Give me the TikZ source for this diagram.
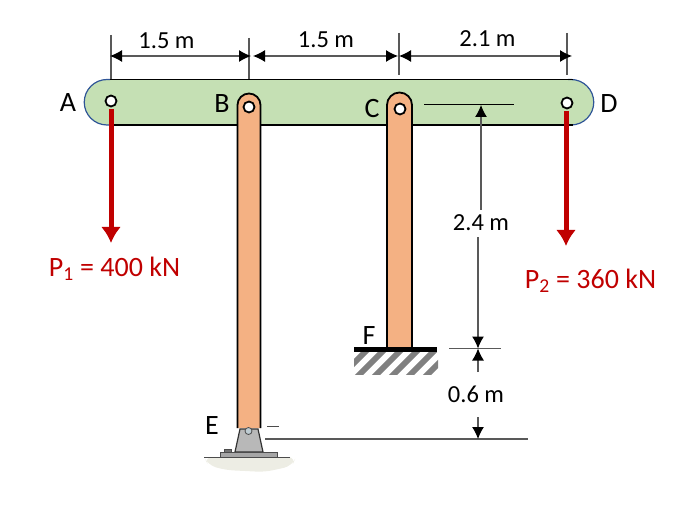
\documentclass[tikz,border=0pt]{standalone}
\usepackage{fontspec}
\setmainfont{Carlito}
\usetikzlibrary{arrows.meta}
\definecolor{barfill}{HTML}{C5E0B4}
\definecolor{linkfill}{HTML}{F4B183}
\definecolor{arcblue}{HTML}{2F5597}
\definecolor{loadred}{HTML}{C00000}
\definecolor{shadowgrey}{HTML}{EDEDE4}
\tikzset{
  every picture/.style={line width=1pt},
  txt/.style={font=\fontsize{28}{30}\selectfont,inner sep=0pt},
  dimtxt/.style={font=\fontsize{24.5}{28}\selectfont,inner sep=0pt},
  pinhole/.style={circle,draw=black,fill=white,line width=1.8pt,minimum size=11pt,inner sep=0pt},
  extline/.style={draw=black!65,line width=1.1pt},
  dimline/.style={draw=black!65,line width=1.1pt},
  tipend/.style={-{Latex[length=12pt,width=12pt,black]}},
  tipboth/.style={{Latex[length=12pt,width=12pt,black]}-{Latex[length=12pt,width=12pt,black]}},
  loadarrow/.style={draw=loadred,line width=5pt,-{Latex[length=16pt,width=20pt]}},
  linkbar/.style={draw=black,fill=linkfill,line width=1.8pt}
}
\begin{document}
\begin{tikzpicture}[x=1pt,y=-1pt]
\useasboundingbox (0,0) rectangle (686,508);
% beam
\fill[barfill] (107,79.5) arc[start angle=270,end angle=90,radius=22.75] -- (571,125) arc[start angle=90,end angle=-90,radius=22.75] -- cycle;
\draw[arcblue,line width=1.2pt] (110,79.5) -- (107,79.5) arc[start angle=270,end angle=90,radius=22.75] -- (110,125);
\draw[arcblue,line width=1.2pt] (568,79.5) -- (571,79.5) arc[start angle=-90,end angle=90,radius=22.75] -- (568,125);
\draw[line width=1.5pt] (110,79.5) -- (573,79.5);
\draw[line width=1.5pt] (110,125) -- (573,125);
% links
\draw[linkbar] (237.5,428) -- (237.5,105) arc[start angle=180,end angle=360,radius=11.5] -- (260.5,428);
\draw[linkbar] (387,348) -- (387,105) arc[start angle=180,end angle=360,radius=12.5] -- (412,348);
% pins
\node[pinhole] (pinA) at (111,101) {};
\node[pinhole] (pinB) at (249,107) {};
\node[pinhole] (pinC) at (400,109) {};
\node[pinhole] (pinD) at (567,103) {};
% loads
\coordinate (endP1) at (111,243);
\coordinate (endP2) at (566,246);
\draw[loadarrow] (111,109) -- (endP1);
\draw[loadarrow] (566,111) -- (endP2);
% top dimensions
\coordinate (extA1) at (111,35);
\coordinate (extA2) at (111,79);
\coordinate (extB1) at (249,38);
\coordinate (extB2) at (249,79);
\coordinate (extC1) at (399,33);
\coordinate (extC2) at (399,75);
\coordinate (extD1) at (567,33);
\coordinate (extD2) at (567,75);
\draw[extline] (extA1) -- (extA2);
\draw[extline] (extB1) -- (extB2);
\draw[extline] (extC1) -- (extC2);
\draw[extline] (extD1) -- (extD2);
\coordinate (dimA) at (110,56);
\coordinate (dimB1) at (251,56);
\coordinate (dimB2) at (253,56);
\coordinate (dimC1) at (398,56);
\coordinate (dimC2) at (399,56);
\coordinate (dimD) at (572,56);
\draw[dimline,tipboth] (dimA) -- (dimB1);
\draw[dimline,tipboth] (dimB2) -- (dimC1);
\draw[dimline,tipboth] (dimC2) -- (dimD);
\node[dimtxt] (lenAB) at (166.5,41) {1.5 m};
\node[dimtxt] (lenBC) at (326,40) {1.5 m};
\node[dimtxt] (lenCD) at (487.5,39) {2.1 m};
% right dimensions
\coordinate (refC1) at (424,105);
\coordinate (refC2) at (514,105);
\coordinate (refF1) at (449,348.5);
\coordinate (refF2) at (501,348.5);
\coordinate (refE1) at (265,439);
\coordinate (refE2) at (528,439);
\draw (refC1) -- (refC2);
\draw[extline] (refF1) -- (refF2);
\draw[extline] (refE1) -- (refE2);
\node[dimtxt] (lenCF) at (481,223) {2.4 m};
\node[dimtxt] (lenFE) at (476,394) {0.6 m};
\coordinate (upC) at (481,105);
\coordinate (tailC) at (481,210);
\coordinate (dnF) at (478,348.5);
\coordinate (tailF) at (478,237);
\coordinate (upF) at (478,348.5);
\coordinate (tailF2) at (478,372);
\coordinate (dnE) at (478,439);
\coordinate (tailE) at (478,417);
\draw[dimline,tipend] (tailC) -- (upC);
\draw[dimline,tipend] (tailF) -- (dnF);
\draw[dimline,tipend] (tailF2) -- (upF);
\draw[dimline,tipend] (tailE) -- (dnE);
% fixed support at F
\begin{scope}
\clip (354,352.5) rectangle (438,374);
\foreach \i in {0,...,5} {
  \draw[black!50,line width=6pt] (337+17*\i,380) -- (369+17*\i,348);
}
\end{scope}
\draw[line width=5pt] (354,349) -- (437,349);
% pin support at E
\fill[shadowgrey,rounded corners=8pt] (204,457) -- (296,457) -- (292,466) -- (265,472) -- (225,470) -- (208,465) -- cycle;
\draw[draw=black!80,fill=black!28,line width=1.2pt] (240,429) -- (258,429) -- (263,452) -- (235,452) -- cycle;
\draw[draw=black!70,fill=black!55,line width=0.8pt] (224,449) rectangle (231,453);
\draw[draw=black!70,fill=black!35,line width=1pt] (220,452) rectangle (277,457);
\draw[black!70,line width=1.4pt] (204,457.5) -- (290,457.5);
\draw[draw=black!70,fill=cyan!35!black!30,line width=0.8pt] (248.5,431) circle (3.5);
\coordinate (stub1) at (267,426);
\coordinate (stub2) at (279,426);
\draw[black!70,line width=0.8pt] (stub1) -- (stub2);
% labels
\node[txt] (labA) at (68,103) {A};
\node[txt] (labB) at (222,104) {B};
\node[txt] (labC) at (372,109) {C};
\node[txt] (labD) at (609,104) {D};
\node[txt] (labE) at (212,426) {E};
\node[txt] (labF) at (369,336) {F};
\node[txt,text=loadred] (labP1) at (114.5,269) {P\textsubscript{1} = 400 kN};
\node[txt,text=loadred] (labP2) at (590.5,281) {P\textsubscript{2} = 360 kN};
\end{tikzpicture}
\end{document}
